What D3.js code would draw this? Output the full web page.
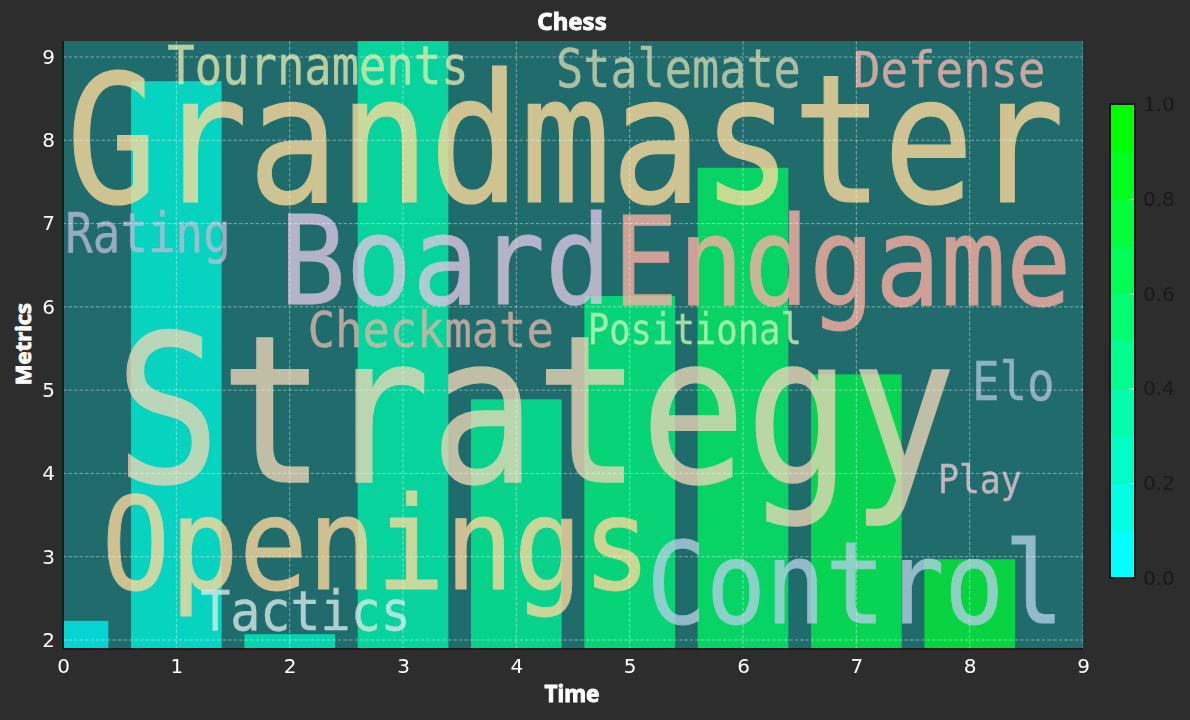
<!DOCTYPE html>
<html><head><meta charset="utf-8">
<script src="https://cdn.jsdelivr.net/npm/d3@7/dist/d3.min.js"></script>
<style>html,body{margin:0;padding:0;background:#2d2d2d;overflow:hidden}</style>
</head><body><svg id="c" width="1190" height="720"></svg>
<script>
const title = "Chess", xLabel = "Time", yLabel = "Metrics";
const barX = [0,1,2,3,4,5,6,7,8];
const barY = [2.23,8.71,2.07,9.6,4.89,6.13,7.67,5.19,2.97];
const xTicks = [0,1,2,3,4,5,6,7,8,9];
const yTicks = [2,3,4,5,6,7,8,9];
const cbTicks = [0,0.2,0.4,0.6,0.8,1.0];
const cbBands = [0,1,2,3,4,5,6,7,8,9];
const words = ["Grandmaster","Strategy","Openings","Control","Board","Endgame","Tournaments","Stalemate","Defense","Rating","Checkmate","Positional","Elo","Play","Tactics"];
// word extents, in axis units
const wordLeft  = [0.03,0.46,0.34,5.15,1.91,4.85,0.92,4.35,6.97,0.02,2.16,4.63,8.02,7.72,1.21];
const wordRight = [8.84,7.88,5.19,8.83,4.84,8.90,3.58,6.51,8.67,1.48,4.33,6.52,8.75,8.46,3.07];
const wordBase  = [7.26,3.90,2.61,2.20,6.04,6.02,8.68,8.64,8.64,6.66,5.52,5.56,4.88,3.76,2.12];
const wordCap   = [1.56,1.80,1.13,1.00,1.07,1.07,0.46,0.47,0.44,0.48,0.44,0.38,0.46,0.34,0.48];
const wordColor = ["#ffdc9c","#edd6b6","#ffd89c","#b3d0e3","#dec7e3","#ffafa2","#e1eaaf","#d4d6af","#fab6af","#babcd6","#e1b6a9","#cdf7b6","#adc3d6","#edc9d6","#daeaea"];

const svg = d3.select("#c");
const L=63,R=1083,T=41,B=649;
const x = d3.scaleLinear().domain([0,9]).range([L,R]);
const y = d3.scaleLinear().domain([2,9]).range([640,57]);
const yBottom = y.invert(B);
const barColor = d3.scaleLinear().domain([0,8]).range(["rgb(6,212,210)","rgb(8,212,65)"]);
const cb = d3.scaleLinear().domain([0,1]).range([578,104]);
const band = d3.scaleLinear().domain([0,9]).range(["rgb(0,255,255)","rgb(0,255,0)"]);

const defs = svg.append("defs");
defs.append("clipPath").attr("id","plot").append("rect").attr("x",L).attr("y",T).attr("width",R-L).attr("height",B-T);
defs.append("filter").attr("id","soft").attr("x","-5%").attr("y","-5%").attr("width","110%").attr("height","110%")
  .append("feGaussianBlur").attr("stdDeviation",0.65);

svg.append("rect").attr("width",1190).attr("height",720).attr("fill","#2d2d2d");
svg.append("rect").attr("x",L).attr("y",T).attr("width",R-L).attr("height",B-T).attr("fill","#206c6c");

const plot = svg.append("g").attr("clip-path","url(#plot)");
plot.selectAll("rect.bar").data(barX).join("rect").attr("class","bar")
  .attr("x",d=>x(d-0.4)).attr("width",d=>x(d+0.4)-x(d-0.4))
  .attr("y",(d,i)=>y(barY[i])).attr("height",(d,i)=>y(yBottom)-y(barY[i]))
  .attr("fill",d=>barColor(d));

const wordSize = i=>(y(wordBase[i])-y(wordBase[i]+wordCap[i]))/0.729;
plot.append("g").attr("filter","url(#soft)").selectAll("text").data(words).join("text")
  .text(d=>d)
  .attr("x",(d,i)=>x(wordLeft[i])).attr("y",(d,i)=>y(wordBase[i]))
  .attr("textLength",(d,i)=>x(wordRight[i])-x(wordLeft[i]))
  .attr("lengthAdjust","spacingAndGlyphs")
  .attr("font-family","'DejaVu Sans Mono'")
  .attr("font-size",(d,i)=>wordSize(i))
  .attr("fill",(d,i)=>wordColor[i])
  .attr("stroke",(d,i)=>wordColor[i])
  .attr("stroke-width",(d,i)=>wordSize(i)*0.007)
  .attr("opacity",0.78);

const grid = plot.append("g").attr("stroke","#fff").attr("stroke-opacity",0.42).attr("stroke-width",1).attr("stroke-dasharray","3.5 2");
grid.selectAll("line.gx").data(xTicks).join("line").attr("class","gx").attr("x1",d=>x(d)).attr("x2",d=>x(d)).attr("y1",T).attr("y2",B);
grid.selectAll("line.gy").data(yTicks).join("line").attr("class","gy").attr("y1",d=>y(d)).attr("y2",d=>y(d)).attr("x1",L).attr("x2",R);

// axes
const xAxis = svg.append("g").attr("transform",`translate(0,${B})`).call(d3.axisBottom(x).tickValues(xTicks).tickFormat(d3.format("d")).tickSize(0).tickPadding(10));
const yAxis = svg.append("g").attr("transform",`translate(${L},0)`).call(d3.axisLeft(y).tickValues(yTicks).tickFormat(d3.format("d")).tickSize(0).tickPadding(8));
[xAxis,yAxis].forEach(a=>{
  a.selectAll("text").attr("fill","#fff").attr("font-family","'DejaVu Sans'").attr("font-size",20);
  a.select(".domain").attr("stroke","#1a1a1a").attr("stroke-width",2);
});
yAxis.select(".domain").attr("d",`M0,${T}V${B}`);
xAxis.select(".domain").attr("d",`M${L},0H${R}`);

// colorbar
svg.append("g").selectAll("rect").data(cbBands).join("rect")
  .attr("x",1110).attr("width",25)
  .attr("y",d=>cb((d+1)/10)).attr("height",d=>cb(d/10)-cb((d+1)/10)+0.5)
  .attr("fill",d=>band(d));
const cbAxis = svg.append("g").attr("transform","translate(1135,0)").call(d3.axisRight(cb).tickValues(cbTicks).tickFormat(d3.format(".1f")).tickSize(-6).tickPadding(8));
cbAxis.select(".domain").remove();
cbAxis.selectAll("line").attr("stroke","#fff").attr("stroke-width",1);
cbAxis.selectAll("text").attr("fill","#1a1a1a").attr("font-family","'DejaVu Sans'").attr("font-size",20);
svg.append("rect").attr("x",1110).attr("y",104).attr("width",25).attr("height",474).attr("fill","none").attr("stroke","#1a1a1a").attr("stroke-width",2);

// titles
const bold = (s,size)=>s.attr("font-family","'Noto Sans'").attr("font-weight",700).attr("fill","#fff").attr("stroke","#fff").attr("stroke-width",0.9).attr("text-anchor","middle").attr("font-size",size);
bold(svg.append("text").attr("x",572).attr("y",30).text(title),24);
bold(svg.append("text").attr("x",572).attr("y",702).text(xLabel),22.5);
bold(svg.append("text").attr("transform","translate(31,344) rotate(-90)").text(yLabel),22);
</script></body></html>
